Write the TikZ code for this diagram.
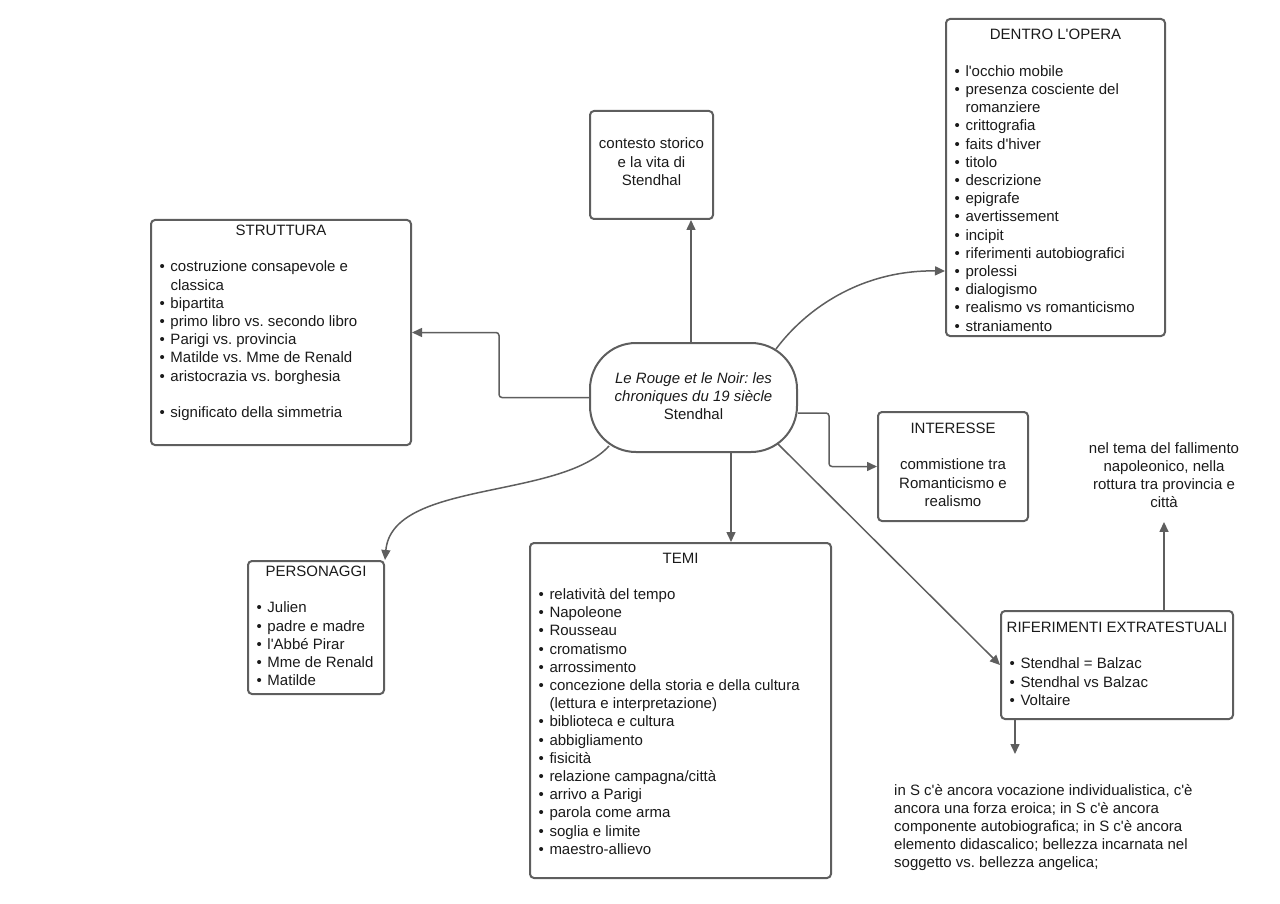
\documentclass[tikz,border=0pt]{standalone}
\usepackage{fontspec}
\setmainfont{Liberation Sans}[Ligatures=TeXOff]
\usepackage{xcolor}
\usetikzlibrary{arrows.meta}
\definecolor{edge}{HTML}{5E5E5E}
\definecolor{ink}{HTML}{1A1A1A}
\newcommand\itm[1]{\par\hangindent=11pt\hangafter=1\noindent\makebox[11pt][l]{\textbullet}#1}
\newcommand\cbox[3]{\parbox[c][#2][t]{#1}{\raggedright #3}}

\begin{document}
\begin{tikzpicture}[x=1pt,y=-1pt,>={Triangle[length=10pt,width=9pt]},
  every node/.style={font=\fontsize{15}{18.2}\selectfont\frenchspacing,text=ink},
  box/.style={draw=edge,line width=2pt,rounded corners=4pt,inner xsep=8.5pt,inner ysep=0pt,anchor=north west},
  hub/.style={draw=edge,line width=2pt,rounded corners=46pt,inner sep=0pt},
  link/.style={->,draw=edge,line width=1.5pt},
  note/.style={inner sep=0pt}]
\useasboundingbox (0,0) rectangle (1280,904);

\node(lrn) at (693.5,397.5)[hub]{\cbox{207pt}{109pt}{\centering\rule{0pt}{40pt}\textit{Le Rouge et le Noir: les}\\ \textit{chroniques du 19 siècle}\\ Stendhal}};
\node(contesto) at (589,110)[box]{\cbox{106pt}{108pt}{\centering\rule{0pt}{38pt}contesto storico\\ e la vita di\\ Stendhal}};
\node(dentro) at (945,18)[box]{\cbox{202pt}{317pt}{{\centering\rule{0pt}{21pt}DENTRO L'OPERA\par}\vspace{\baselineskip}
  \itm{l'occhio mobile}
  \itm{presenza cosciente del\newline romanziere}
  \itm{crittografia}
  \itm{faits d'hiver}
  \itm{titolo}
  \itm{descrizione}
  \itm{epigrafe}
  \itm{avertissement}
  \itm{incipit}
  \itm{riferimenti autobiografici}
  \itm{prolessi}
  \itm{dialogismo}
  \itm{realismo vs romanticismo}
  \itm{straniamento}}};
\node(strutt) at (150,219)[box]{\cbox{243pt}{225pt}{{\centering\rule{0pt}{15.5pt}STRUTTURA\par}\vspace{\baselineskip}
  \itm{costruzione consapevole e\newline classica}
  \itm{bipartita}
  \itm{primo libro vs. secondo libro}
  \itm{Parigi vs. provincia}
  \itm{Matilde vs. Mme de Renald}
  \itm{aristocrazia vs. borghesia}\par\vspace{\baselineskip}
  \itm{significato della simmetria}}};
\node(interesse) at (877,411)[box]{\cbox{133pt}{109pt}{\centering\rule{0pt}{21.5pt}INTERESSE\par\vspace{\baselineskip}commistione tra\\ Romanticismo e\\ realismo}};
\node(perso) at (247,560)[box]{\cbox{119pt}{133pt}{{\centering\rule{0pt}{15.5pt}PERSONAGGI\par}\vspace{\baselineskip}
  \itm{Julien}
  \itm{padre e madre}
  \itm{l'Abbé Pirar}
  \itm{Mme de Renald}
  \itm{Matilde}}};
\node(temi) at (529,542)[box]{\cbox{284pt}{335pt}{{\centering\rule{0pt}{20pt}TEMI\par}\vspace{\baselineskip}
  \itm{relatività del tempo}
  \itm{Napoleone}
  \itm{Rousseau}
  \itm{cromatismo}
  \itm{arrossimento}
  \itm{concezione della storia e della cultura\newline (lettura e interpretazione)}
  \itm{biblioteca e cultura}
  \itm{abbigliamento}
  \itm{fisicità}
  \itm{relazione campagna/città}
  \itm{arrivo a Parigi}
  \itm{parola come arma}
  \itm{soglia e limite}
  \itm{maestro-allievo}}};
\node(rif) at (1000,610)[box]{\cbox{215pt}{108pt}{{\centering\rule{0pt}{21.5pt}\makebox[\linewidth]{RIFERIMENTI EXTRATESTUALI}\par}\vspace{\baselineskip}
  \itm{Stendhal = Balzac}
  \itm{Stendhal vs Balzac}
  \itm{Voltaire}}};
\node(fall) at (1164,453)[note,anchor=base]{\parbox[t]{180pt}{\centering nel tema del fallimento\\ napoleonico, nella\\ rottura tra provincia e\\ città}};
\node(insc) at (894,795)[note,anchor=base west]{\parbox[t]{330pt}{\raggedright in S c'è ancora vocazione individualistica, c'è\\ ancora una forza eroica; in S c'è ancora\\ componente autobiografica; in S c'è ancora\\ elemento didascalico; bellezza incarnata nel\\ soggetto vs. bellezza angelica;}};

\draw[link] ([xshift=-2.5pt]lrn.north) -- ([xshift=-2.5pt]lrn.north |- contesto.south);
\draw[link] ([xshift=-22pt,yshift=-7pt]lrn.north east) .. controls (805,310) and (860,270) .. ([yshift=-93.5pt]dentro.west);
\draw[link,rounded corners=3pt] (lrn.west) -- ++(-90,0) |- (strutt.east);
\draw[link,rounded corners=3pt] ([yshift=-15.5pt]lrn.east) -- ++(31,0) |- (interesse.west);
\draw[link] ([xshift=-84.5pt,yshift=-48.5pt]lrn.center) .. controls (560,500) and (392,480) .. (perso.north east);
\draw[link] ([xshift=37.5pt]lrn.south) -- ([xshift=37.5pt]lrn.south |- temi.north);
\draw[link] ([xshift=83.5pt,yshift=-45.5pt]lrn.center) -- (rif.west);
\draw[link] (rif.north -| fall.south) -- ([yshift=-14pt]fall.south);
\draw[link] ([xshift=15pt]rif.south west) -- ++(0,34);

\end{tikzpicture}
\end{document}
